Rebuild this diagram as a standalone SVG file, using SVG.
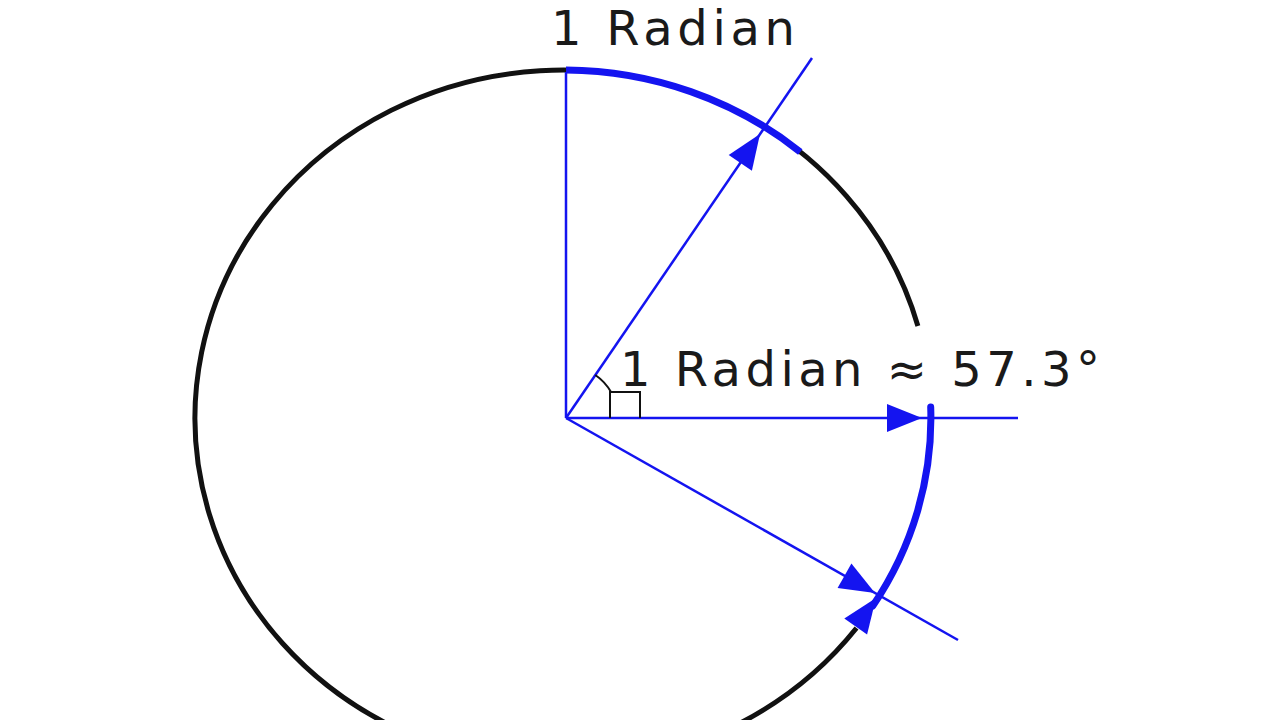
<svg xmlns="http://www.w3.org/2000/svg" width="1280" height="720" viewBox="0 0 1280 720">
<style>
.lbl{font-family:"DejaVu Sans","Liberation Sans",sans-serif;font-size:48px;fill:#1a1a1a}
.thin{stroke:#1414f0;stroke-width:2.5;fill:none}
.head{fill:#1414f0;stroke:none}
.circ{stroke:#111;stroke-width:5;fill:none}
.thick{stroke:#1414f0;stroke-width:7;fill:none}
.mark{stroke:#111;stroke-width:2;fill:none}
</style>
<rect width="1280" height="720" fill="#fff"/>
<g id="circle">
<path class="circ" d="M 917.9 326 A 368 348 0 1 0 856.5 628"/>
<path class="thick" d="M 566 70 A 368 348 0 0 1 800.3 152"/>
<path class="thick" stroke-linecap="round" d="M 930.7 407 A 368 348 0 0 1 872.7 606"/>
<polygon class="head" points="876,598 867.1,634.6 844.3,618.4"/>
</g>
<g id="connectors">
<line class="thin" x1="566" y1="418" x2="566" y2="72"/>
<line class="thin" x1="566" y1="418" x2="812" y2="58"/>
<line class="thin" x1="566" y1="418" x2="1018" y2="418"/>
<line class="thin" x1="566" y1="418" x2="958" y2="640"/>
<polygon class="head" points="760,134 751.9,170.8 728.7,155"/>
<polygon class="head" points="922,418 887,404 887,432"/>
<polygon class="head" points="875,593 837.6,587.9 851.4,563.6"/>
</g>
<g id="angle-marks">
<path class="mark" d="M 595.3 375 A 52 52 0 0 1 611 392"/>
<path class="mark" d="M 610 418 V 392 H 640 V 418"/>
</g>
<g id="label-top">
<text class="lbl" x="551" y="45" textLength="244" lengthAdjust="spacing">1 Radian</text>
</g>
<g id="label-angle">
<text class="lbl" x="620" y="386" textLength="480" lengthAdjust="spacing">1 Radian ≈ 57.3°</text>
</g>
</svg>
